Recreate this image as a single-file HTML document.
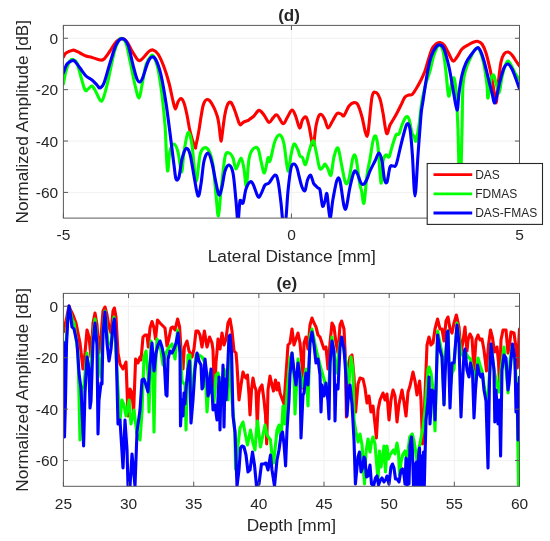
<!DOCTYPE html>
<html><head><meta charset="utf-8"><style>html,body{margin:0;padding:0;background:#fff;width:550px;height:541px;overflow:hidden}</style></head>
<body>
<svg width="550" height="541" viewBox="0 0 550 541" style="display:block;font-family:'Liberation Sans',Arial,sans-serif" fill="#262626">
<defs><clipPath id="c1"><rect x="63.4" y="25.4" width="456.10" height="192.70"/></clipPath>
<clipPath id="c2"><rect x="63.4" y="293.4" width="456.10" height="192.90"/></clipPath></defs>
<rect width="550" height="541" fill="#ffffff"/>
<line x1="63.4" y1="38.25" x2="519.5" y2="38.25" stroke="#f1f1f1" stroke-width="1"/>
<line x1="63.4" y1="89.63" x2="519.5" y2="89.63" stroke="#f1f1f1" stroke-width="1"/>
<line x1="63.4" y1="141.02" x2="519.5" y2="141.02" stroke="#f1f1f1" stroke-width="1"/>
<line x1="63.4" y1="192.41" x2="519.5" y2="192.41" stroke="#f1f1f1" stroke-width="1"/>
<line x1="291.45" y1="25.4" x2="291.45" y2="218.1" stroke="#f1f1f1" stroke-width="1"/>
<line x1="63.4" y1="306.26" x2="519.5" y2="306.26" stroke="#f1f1f1" stroke-width="1"/>
<line x1="63.4" y1="357.70" x2="519.5" y2="357.70" stroke="#f1f1f1" stroke-width="1"/>
<line x1="63.4" y1="409.14" x2="519.5" y2="409.14" stroke="#f1f1f1" stroke-width="1"/>
<line x1="63.4" y1="460.58" x2="519.5" y2="460.58" stroke="#f1f1f1" stroke-width="1"/>
<line x1="128.56" y1="293.4" x2="128.56" y2="486.3" stroke="#f1f1f1" stroke-width="1"/>
<line x1="193.71" y1="293.4" x2="193.71" y2="486.3" stroke="#f1f1f1" stroke-width="1"/>
<line x1="258.87" y1="293.4" x2="258.87" y2="486.3" stroke="#f1f1f1" stroke-width="1"/>
<line x1="324.03" y1="293.4" x2="324.03" y2="486.3" stroke="#f1f1f1" stroke-width="1"/>
<line x1="389.19" y1="293.4" x2="389.19" y2="486.3" stroke="#f1f1f1" stroke-width="1"/>
<line x1="454.34" y1="293.4" x2="454.34" y2="486.3" stroke="#f1f1f1" stroke-width="1"/>
<path d="M63.4,57.0 C63.8,56.3 64.5,54.1 66.0,53.0 C67.5,51.9 71.0,50.5 72.7,50.2 C74.4,49.9 74.8,50.5 76.0,51.0 C77.2,51.5 78.3,52.2 80.0,53.0 C81.7,53.8 84.0,55.3 86.0,56.0 C88.0,56.7 89.7,56.7 92.0,57.4 C94.3,58.1 98.0,59.7 100.0,60.0 C102.0,60.3 102.3,60.5 104.0,59.0 C105.7,57.5 108.0,53.8 110.0,51.0 C112.0,48.2 114.0,44.1 116.0,42.0 C118.0,39.9 120.2,38.6 122.0,38.6 C123.8,38.6 125.3,39.9 127.0,42.0 C128.7,44.1 130.3,48.2 132.0,51.0 C133.7,53.8 135.7,57.4 137.0,59.0 C138.3,60.6 138.8,60.9 140.0,60.6 C141.2,60.3 142.5,58.5 144.0,57.0 C145.5,55.5 147.5,52.6 149.0,51.4 C150.5,50.2 151.5,49.6 153.0,50.0 C154.5,50.4 156.2,51.2 158.0,54.0 C159.8,56.8 162.2,62.2 164.0,67.0 C165.8,71.8 167.5,77.3 169.0,83.0 C170.5,88.7 171.9,96.7 173.0,101.0 C174.1,105.3 174.6,108.8 175.4,109.0 C176.2,109.2 177.1,103.7 178.0,102.0 C178.9,100.3 180.0,98.4 181.0,98.6 C182.0,98.8 183.0,100.3 184.0,103.0 C185.0,105.7 186.0,110.3 187.0,115.0 C188.0,119.7 188.7,125.7 190.0,131.0 C191.3,136.3 194.0,144.7 195.0,147.0 C196.0,149.3 195.3,147.8 196.0,145.0 C196.7,142.2 198.2,134.7 199.0,130.0 C199.8,125.3 200.3,121.0 201.0,117.0 C201.7,113.0 202.3,108.7 203.0,106.0 C203.7,103.3 204.3,102.1 205.0,101.0 C205.7,99.9 206.2,99.6 207.0,99.5 C207.8,99.4 208.7,99.8 209.5,100.5 C210.3,101.2 211.1,102.4 212.0,104.0 C212.9,105.6 214.1,107.8 215.0,110.0 C215.9,112.2 216.8,114.5 217.5,117.0 C218.2,119.5 218.6,122.2 219.0,125.0 C219.4,127.8 219.7,131.3 220.0,134.0 C220.3,136.7 220.7,140.7 221.0,141.0 C221.3,141.3 221.6,138.8 222.0,136.0 C222.4,133.2 223.0,127.7 223.5,124.0 C224.0,120.3 224.4,117.0 225.0,114.0 C225.6,111.0 226.3,107.9 227.0,106.0 C227.7,104.1 228.3,103.1 229.0,102.5 C229.7,101.9 230.3,101.9 231.0,102.5 C231.7,103.1 232.3,104.6 233.0,106.0 C233.7,107.4 234.3,109.2 235.0,111.0 C235.7,112.8 236.3,115.0 237.0,117.0 C237.7,119.0 238.4,121.7 239.0,123.0 C239.6,124.3 239.9,125.0 240.5,125.0 C241.1,125.0 241.8,123.6 242.5,123.0 C243.2,122.4 244.1,121.9 245.0,121.5 C245.9,121.1 247.2,120.9 248.0,120.5 C248.8,120.1 249.0,119.8 250.0,119.0 C251.0,118.2 252.5,117.4 254.0,116.0 C255.5,114.6 257.3,110.6 259.0,110.4 C260.7,110.2 262.3,113.0 264.0,115.0 C265.7,117.0 267.5,121.9 269.0,122.4 C270.5,122.9 271.7,119.2 273.0,118.0 C274.3,116.8 275.3,114.1 277.0,115.0 C278.7,115.9 281.3,123.1 283.0,123.6 C284.7,124.1 285.5,120.3 287.0,118.0 C288.5,115.7 290.6,110.3 292.0,110.0 C293.4,109.7 294.3,113.0 295.6,116.0 C296.9,119.0 298.5,127.3 299.6,128.0 C300.7,128.7 301.3,121.8 302.4,120.0 C303.5,118.2 304.9,116.0 306.0,117.0 C307.1,118.0 307.8,121.3 309.0,126.0 C310.2,130.7 311.8,145.0 313.0,145.0 C314.2,145.0 315.0,130.9 316.0,126.0 C317.0,121.1 318.0,117.4 319.0,115.6 C320.0,113.8 321.0,114.3 322.0,115.0 C323.0,115.7 324.0,117.8 325.0,120.0 C326.0,122.2 326.8,127.7 328.0,128.0 C329.2,128.3 330.5,124.4 332.0,122.0 C333.5,119.6 335.5,114.9 337.0,113.6 C338.5,112.3 339.8,113.7 341.0,114.0 C342.2,114.3 342.7,116.9 344.0,115.6 C345.3,114.3 347.3,108.2 349.0,106.0 C350.7,103.8 352.5,102.8 354.0,102.6 C355.5,102.4 356.7,102.6 358.0,105.0 C359.3,107.4 360.7,112.3 362.0,117.0 C363.3,121.7 364.6,130.3 365.6,133.0 C366.6,135.7 366.9,139.0 368.0,133.0 C369.1,127.0 370.7,103.7 372.0,97.0 C373.3,90.3 374.7,92.3 376.0,92.6 C377.3,92.9 378.8,95.6 380.0,99.0 C381.2,102.4 381.9,107.3 383.0,113.0 C384.1,118.7 385.4,131.4 386.6,133.4 C387.8,135.4 388.9,127.2 390.0,125.0 C391.1,122.8 391.8,122.0 393.0,120.0 C394.2,118.0 395.7,115.5 397.0,113.0 C398.3,110.5 399.7,107.7 401.0,105.0 C402.3,102.3 403.7,98.7 405.0,97.0 C406.3,95.3 407.8,95.4 409.0,95.0 C410.2,94.6 410.8,95.6 412.0,94.6 C413.2,93.6 414.5,91.4 416.0,89.0 C417.5,86.6 419.5,83.0 421.0,80.0 C422.5,77.0 423.8,74.2 425.0,71.0 C426.2,67.8 426.8,64.7 428.0,61.0 C429.2,57.3 430.7,51.8 432.0,49.0 C433.3,46.2 434.7,45.1 436.0,44.0 C437.3,42.9 438.7,42.4 440.0,42.6 C441.3,42.8 442.7,43.4 444.0,45.0 C445.3,46.6 446.5,49.3 448.0,52.0 C449.5,54.7 451.5,60.2 453.0,61.0 C454.5,61.8 455.5,59.0 457.0,57.0 C458.5,55.0 460.2,51.0 462.0,49.0 C463.8,47.0 466.0,46.2 468.0,45.0 C470.0,43.8 472.3,42.6 474.0,42.0 C475.7,41.4 476.7,41.1 478.0,41.4 C479.3,41.7 480.7,42.1 482.0,44.0 C483.3,45.9 484.7,48.8 486.0,53.0 C487.3,57.2 488.8,63.7 490.0,69.0 C491.2,74.3 492.0,79.3 493.0,85.0 C494.0,90.7 495.2,103.0 496.0,103.0 C496.8,103.0 497.2,91.8 498.0,85.0 C498.8,78.2 500.0,67.2 501.0,62.0 C502.0,56.8 502.8,55.7 504.0,54.0 C505.2,52.3 506.7,51.8 508.0,52.0 C509.3,52.2 510.7,53.5 512.0,55.0 C513.3,56.5 514.8,59.2 516.0,61.0 C517.2,62.8 518.9,65.2 519.5,66.0" fill="none" stroke="#ff0000" stroke-width="3.1" stroke-linejoin="round" stroke-linecap="round" clip-path="url(#c1)"/>
<path d="M63.4,84.0 C63.8,81.8 64.9,74.8 66.0,71.0 C67.1,67.2 68.8,62.9 70.0,61.0 C71.2,59.1 71.8,59.1 73.0,59.4 C74.2,59.7 75.7,60.1 77.0,63.0 C78.3,65.9 79.7,72.5 81.0,77.0 C82.3,81.5 83.8,88.0 85.0,90.0 C86.2,92.0 86.8,89.7 88.0,89.0 C89.2,88.3 90.7,85.5 92.0,86.0 C93.3,86.5 94.7,89.7 96.0,92.0 C97.3,94.3 98.8,98.8 100.0,100.0 C101.2,101.2 101.7,102.2 103.0,99.0 C104.3,95.8 106.2,88.7 108.0,81.0 C109.8,73.3 112.2,59.8 114.0,53.0 C115.8,46.2 117.7,42.4 119.0,40.0 C120.3,37.6 120.8,38.1 122.0,38.6 C123.2,39.1 124.7,39.3 126.0,43.0 C127.3,46.7 128.5,54.0 130.0,61.0 C131.5,68.0 133.5,78.8 135.0,85.0 C136.5,91.2 137.8,98.0 139.0,98.0 C140.2,98.0 140.8,90.5 142.0,85.0 C143.2,79.5 144.5,69.8 146.0,65.0 C147.5,60.2 149.7,57.3 151.0,56.0 C152.3,54.7 152.8,54.8 154.0,57.0 C155.2,59.2 156.7,62.7 158.0,69.0 C159.3,75.3 160.8,85.7 162.0,95.0 C163.2,104.3 164.3,116.7 165.0,125.0 C165.7,133.3 165.6,137.3 166.0,145.0 C166.4,152.7 166.9,170.0 167.6,171.0 C168.3,172.0 168.9,155.5 170.0,151.0 C171.1,146.5 172.7,143.8 174.0,144.0 C175.3,144.2 176.7,147.3 178.0,152.0 C179.3,156.7 180.6,172.0 181.6,172.0 C182.6,172.0 182.9,158.6 184.0,152.0 C185.1,145.4 186.7,133.8 188.0,132.6 C189.3,131.4 190.7,136.9 192.0,145.0 C193.3,153.1 194.7,179.3 196.0,181.0 C197.3,182.7 198.7,160.5 200.0,155.0 C201.3,149.5 202.5,148.7 204.0,148.0 C205.5,147.3 207.5,148.2 209.0,151.0 C210.5,153.8 211.8,157.7 213.0,165.0 C214.2,172.3 215.1,186.5 216.0,195.0 C216.9,203.5 217.6,216.7 218.4,216.0 C219.2,215.3 219.9,200.8 221.0,191.0 C222.1,181.2 223.7,163.3 225.0,157.0 C226.3,150.7 227.7,152.8 229.0,153.0 C230.3,153.2 231.8,155.3 233.0,158.0 C234.2,160.7 234.7,169.0 236.0,169.0 C237.3,169.0 239.7,158.0 241.0,158.0 C242.3,158.0 243.1,164.3 244.0,169.0 C244.9,173.7 245.6,187.7 246.4,186.0 C247.2,184.3 247.9,165.2 249.0,159.0 C250.1,152.8 251.5,150.7 253.0,149.0 C254.5,147.3 256.7,146.6 258.0,148.6 C259.3,150.6 259.9,156.9 261.0,161.0 C262.1,165.1 263.2,173.5 264.4,173.0 C265.6,172.5 267.1,160.0 268.0,158.0 C268.9,156.0 268.8,163.8 270.0,161.0 C271.2,158.2 273.3,145.3 275.0,141.0 C276.7,136.7 278.5,134.5 280.0,135.0 C281.5,135.5 282.7,138.0 284.0,144.0 C285.3,150.0 286.8,169.2 288.0,171.0 C289.2,172.8 290.0,159.5 291.0,155.0 C292.0,150.5 292.8,144.8 294.0,144.0 C295.2,143.2 297.0,148.0 298.0,150.0 C299.0,152.0 299.2,154.8 300.0,156.0 C300.8,157.2 301.6,156.1 302.5,157.5 C303.4,158.9 304.4,165.4 305.5,164.5 C306.6,163.6 307.8,156.0 309.0,152.0 C310.2,148.0 311.8,140.8 313.0,140.6 C314.2,140.4 314.9,146.4 316.0,151.0 C317.1,155.6 318.4,165.3 319.6,168.0 C320.8,170.7 322.1,167.7 323.0,167.0 C323.9,166.3 324.2,163.7 325.0,164.0 C325.8,164.3 327.0,167.2 328.0,169.0 C329.0,170.8 330.0,177.0 331.0,175.0 C332.0,173.0 332.8,161.5 334.0,157.0 C335.2,152.5 336.7,146.3 338.0,148.0 C339.3,149.7 340.7,161.2 342.0,167.0 C343.3,172.8 344.4,181.0 345.6,183.0 C346.8,185.0 347.8,183.3 349.0,179.0 C350.2,174.7 351.8,160.9 353.0,157.4 C354.2,153.9 354.9,153.7 356.0,158.0 C357.1,162.3 358.7,177.5 359.6,183.0 C360.5,188.5 360.9,187.7 361.6,191.0 C362.3,194.3 363.1,205.7 364.0,203.0 C364.9,200.3 366.0,182.3 367.0,175.0 C368.0,167.7 369.0,164.7 370.0,159.0 C371.0,153.3 372.1,144.8 373.0,141.0 C373.9,137.2 374.8,135.0 375.6,136.0 C376.4,137.0 377.1,139.2 378.0,147.0 C378.9,154.8 380.2,180.7 381.0,183.0 C381.8,185.3 382.2,165.7 383.0,161.0 C383.8,156.3 385.0,155.7 386.0,155.0 C387.0,154.3 388.0,158.3 389.0,157.0 C390.0,155.7 390.8,150.7 392.0,147.0 C393.2,143.3 394.8,137.2 396.0,135.0 C397.2,132.8 398.0,135.7 399.0,134.0 C400.0,132.3 400.8,127.8 402.0,125.0 C403.2,122.2 404.8,118.0 406.0,117.0 C407.2,116.0 408.0,116.3 409.0,119.0 C410.0,121.7 411.2,130.2 412.0,133.0 C412.8,135.8 413.3,134.7 414.0,136.0 C414.7,137.3 415.2,142.8 416.0,141.0 C416.8,139.2 418.0,131.7 419.0,125.0 C420.0,118.3 420.8,108.0 422.0,101.0 C423.2,94.0 424.7,88.0 426.0,83.0 C427.3,78.0 428.7,75.7 430.0,71.0 C431.3,66.3 432.5,59.3 434.0,55.0 C435.5,50.7 437.5,45.7 439.0,45.0 C440.5,44.3 441.8,46.5 443.0,51.0 C444.2,55.5 445.1,64.5 446.0,72.0 C446.9,79.5 447.7,94.2 448.6,96.0 C449.5,97.8 450.7,86.0 451.6,83.0 C452.5,80.0 453.3,76.7 454.0,78.0 C454.7,79.3 455.3,82.3 456.0,91.0 C456.7,99.7 457.3,111.8 458.0,130.0 C458.7,148.2 459.3,200.0 460.0,200.0 C460.7,200.0 461.5,149.2 462.0,130.0 C462.5,110.8 462.3,95.2 463.0,85.0 C463.7,74.8 464.8,73.3 466.0,69.0 C467.2,64.7 468.7,62.0 470.0,59.0 C471.3,56.0 472.8,52.8 474.0,51.0 C475.2,49.2 476.0,48.0 477.0,48.0 C478.0,48.0 478.8,48.2 480.0,51.0 C481.2,53.8 482.8,59.3 484.0,65.0 C485.2,70.7 486.3,79.5 487.0,85.0 C487.7,90.5 487.3,99.0 488.0,98.0 C488.7,97.0 490.1,82.8 491.0,79.0 C491.9,75.2 492.8,74.3 493.6,75.0 C494.4,75.7 495.1,80.0 496.0,83.0 C496.9,86.0 498.0,94.0 499.0,93.0 C500.0,92.0 501.0,81.5 502.0,77.0 C503.0,72.5 504.0,68.7 505.0,66.0 C506.0,63.3 507.0,61.2 508.0,61.0 C509.0,60.8 509.8,63.0 511.0,65.0 C512.2,67.0 513.6,70.5 515.0,73.0 C516.4,75.5 518.8,78.8 519.5,80.0" fill="none" stroke="#00ff00" stroke-width="3.1" stroke-linejoin="round" stroke-linecap="round" clip-path="url(#c1)"/>
<path d="M63.4,73.0 C64.0,71.5 65.5,66.1 67.0,64.0 C68.5,61.9 71.1,60.9 72.4,60.5 C73.7,60.1 73.7,60.2 75.0,61.5 C76.3,62.8 78.2,65.6 80.0,68.0 C81.8,70.4 84.0,74.0 86.0,76.0 C88.0,78.0 90.2,78.5 92.0,80.0 C93.8,81.5 95.7,83.7 97.0,85.0 C98.3,86.3 98.8,88.3 100.0,88.0 C101.2,87.7 102.3,87.2 104.0,83.0 C105.7,78.8 108.0,69.3 110.0,63.0 C112.0,56.7 114.0,49.1 116.0,45.0 C118.0,40.9 120.0,38.6 122.0,38.6 C124.0,38.6 126.2,40.6 128.0,45.0 C129.8,49.4 131.5,59.3 133.0,65.0 C134.5,70.7 135.8,76.2 137.0,79.0 C138.2,81.8 139.0,82.3 140.0,82.0 C141.0,81.7 141.7,80.3 143.0,77.0 C144.3,73.7 146.5,65.3 148.0,62.0 C149.5,58.7 150.7,57.3 152.0,57.0 C153.3,56.7 154.5,57.0 156.0,60.0 C157.5,63.0 159.3,67.8 161.0,75.0 C162.7,82.2 164.5,93.3 166.0,103.0 C167.5,112.7 169.0,125.3 170.0,133.0 C171.0,140.7 171.3,143.7 172.0,149.0 C172.7,154.3 173.3,160.0 174.0,165.0 C174.7,170.0 175.2,177.0 176.0,179.0 C176.8,181.0 178.0,180.3 179.0,177.0 C180.0,173.7 180.8,163.7 182.0,159.0 C183.2,154.3 184.7,149.4 186.0,148.6 C187.3,147.8 188.7,149.4 190.0,154.0 C191.3,158.6 192.7,169.0 194.0,176.0 C195.3,183.0 196.8,194.7 198.0,196.0 C199.2,197.3 200.0,189.8 201.0,184.0 C202.0,178.2 202.8,166.2 204.0,161.0 C205.2,155.8 206.7,152.7 208.0,153.0 C209.3,153.3 210.7,158.0 212.0,163.0 C213.3,168.0 214.8,177.7 216.0,183.0 C217.2,188.3 218.0,194.3 219.0,195.0 C220.0,195.7 221.0,191.0 222.0,187.0 C223.0,183.0 223.8,174.7 225.0,171.0 C226.2,167.3 227.7,164.7 229.0,165.0 C230.3,165.3 231.8,167.0 233.0,173.0 C234.2,179.0 235.2,193.0 236.0,201.0 C236.8,209.0 237.3,221.0 238.0,221.0 C238.7,221.0 239.2,204.0 240.0,201.0 C240.8,198.0 242.0,205.0 243.0,203.0 C244.0,201.0 244.8,192.5 246.0,189.0 C247.2,185.5 248.8,182.8 250.0,182.0 C251.2,181.2 251.7,181.6 253.0,184.0 C254.3,186.4 256.7,194.9 258.0,196.6 C259.3,198.3 259.8,195.9 261.0,194.0 C262.2,192.1 263.7,186.8 265.0,185.0 C266.3,183.2 267.3,184.7 269.0,183.0 C270.7,181.3 273.5,175.3 275.0,175.0 C276.5,174.7 277.0,176.3 278.0,181.0 C279.0,185.7 280.2,196.2 281.0,203.0 C281.8,209.8 282.2,218.8 283.0,222.0 C283.8,225.2 284.8,227.2 285.6,222.0 C286.4,216.8 287.1,200.0 288.0,191.0 C288.9,182.0 290.0,172.5 291.0,168.0 C292.0,163.5 293.0,164.0 294.0,164.0 C295.0,164.0 296.2,166.0 297.0,168.0 C297.8,170.0 298.2,172.8 299.0,176.0 C299.8,179.2 301.0,184.6 302.0,187.0 C303.0,189.4 304.1,191.7 305.0,190.5 C305.9,189.3 306.6,182.6 307.5,180.0 C308.4,177.4 309.7,175.0 310.5,175.0 C311.3,175.0 311.9,178.5 312.5,180.0 C313.1,181.5 313.1,182.7 314.0,184.0 C314.9,185.3 317.0,187.0 318.0,188.0 C319.0,189.0 319.2,187.0 320.0,190.0 C320.8,193.0 321.7,204.2 322.5,206.0 C323.3,207.8 324.2,203.0 325.0,201.0 C325.8,199.0 326.2,191.2 327.0,194.0 C327.8,196.8 329.0,217.2 330.0,218.0 C331.0,218.8 331.8,205.3 333.0,199.0 C334.2,192.7 335.8,183.0 337.0,180.0 C338.2,177.0 338.8,176.7 340.0,181.0 C341.2,185.3 342.9,201.7 344.0,206.0 C345.1,210.3 345.4,210.2 346.4,207.0 C347.4,203.8 348.7,192.8 350.0,187.0 C351.3,181.2 352.8,174.3 354.0,172.0 C355.2,169.7 355.8,171.2 357.0,173.0 C358.2,174.8 359.8,181.2 361.0,183.0 C362.2,184.8 363.0,184.7 364.0,184.0 C365.0,183.3 366.0,181.2 367.0,179.0 C368.0,176.8 368.7,174.0 370.0,171.0 C371.3,168.0 373.5,164.0 375.0,161.0 C376.5,158.0 377.8,153.0 379.0,153.0 C380.2,153.0 381.1,156.7 382.0,161.0 C382.9,165.3 383.6,175.5 384.4,179.0 C385.2,182.5 386.1,184.0 387.0,182.0 C387.9,180.0 389.0,169.7 390.0,167.0 C391.0,164.3 392.0,166.3 393.0,166.0 C394.0,165.7 394.8,167.8 396.0,165.0 C397.2,162.2 398.7,154.3 400.0,149.0 C401.3,143.7 402.8,137.2 404.0,133.0 C405.2,128.8 406.0,124.7 407.0,124.0 C408.0,123.3 409.1,123.8 410.0,129.0 C410.9,134.2 411.6,143.8 412.4,155.0 C413.2,166.2 414.1,196.0 415.0,196.0 C415.9,196.0 417.0,168.5 418.0,155.0 C419.0,141.5 420.2,124.0 421.0,115.0 C421.8,106.0 422.0,107.7 423.0,101.0 C424.0,94.3 425.7,82.3 427.0,75.0 C428.3,67.7 429.5,61.7 431.0,57.0 C432.5,52.3 434.5,49.0 436.0,47.0 C437.5,45.0 438.7,44.7 440.0,45.0 C441.3,45.3 442.5,45.3 444.0,49.0 C445.5,52.7 447.5,60.3 449.0,67.0 C450.5,73.7 451.7,81.8 453.0,89.0 C454.3,96.2 456.0,109.3 457.0,110.0 C458.0,110.7 458.2,98.8 459.0,93.0 C459.8,87.2 460.8,80.0 462.0,75.0 C463.2,70.0 464.5,66.3 466.0,63.0 C467.5,59.7 469.2,57.5 471.0,55.0 C472.8,52.5 475.5,48.8 477.0,48.0 C478.5,47.2 478.8,47.8 480.0,50.0 C481.2,52.2 482.7,56.5 484.0,61.0 C485.3,65.5 486.7,71.7 488.0,77.0 C489.3,82.3 490.9,88.7 492.0,93.0 C493.1,97.3 493.6,102.7 494.4,103.0 C495.2,103.3 496.1,98.7 497.0,95.0 C497.9,91.3 498.8,85.5 500.0,81.0 C501.2,76.5 502.7,70.8 504.0,68.0 C505.3,65.2 506.7,63.8 508.0,64.0 C509.3,64.2 510.7,66.5 512.0,69.0 C513.3,71.5 514.8,75.7 516.0,79.0 C517.2,82.3 518.9,87.3 519.5,89.0" fill="none" stroke="#0000ff" stroke-width="3.1" stroke-linejoin="round" stroke-linecap="round" clip-path="url(#c1)"/>
<polyline points="63.4,332.0 64.3,327.0 65.5,323.0 66.8,317.0 69.0,306.0 71.0,311.0 73.0,315.0 76.0,323.0 78.0,333.0 80.0,343.0 81.6,357.0 83.0,369.0 85.0,353.0 87.0,330.0 89.0,337.0 91.0,357.0 93.0,323.0 95.0,313.0 97.0,325.0 99.0,353.0 101.0,337.0 103.0,311.0 105.0,307.0 107.0,315.0 109.0,327.0 111.0,333.0 113.0,311.0 114.4,308.0 116.0,317.0 118.0,353.0 120.0,364.0 123.0,369.0 126.0,362.0 128.0,416.0 130.0,389.0 132.0,393.0 133.6,412.0 135.6,359.0 138.0,363.0 140.0,357.0 141.0,360.0 143.0,337.0 145.0,335.0 147.0,335.0 148.3,347.0 150.0,328.0 152.0,321.5 154.0,328.0 155.5,339.0 157.5,320.0 160.0,323.0 163.0,326.0 165.0,328.0 167.0,346.0 169.0,338.0 171.0,328.0 173.0,327.0 175.0,330.0 177.6,319.0 179.6,327.0 181.6,359.0 183.0,369.0 184.4,347.0 187.0,341.0 189.0,351.0 192.0,357.0 194.0,349.0 196.0,331.0 198.0,331.0 200.0,335.0 202.0,347.0 204.4,331.0 207.0,347.0 209.6,337.0 212.0,343.0 213.0,350.0 214.5,395.0 216.0,362.0 217.0,352.0 218.0,339.0 220.0,349.0 222.0,333.0 224.0,345.0 226.0,339.0 228.0,323.0 230.0,319.0 232.0,331.0 234.0,351.0 236.0,353.0 237.0,365.0 239.0,400.0 241.0,385.0 243.0,372.0 244.5,376.0 246.0,378.0 247.5,375.0 249.0,395.0 250.0,415.0 251.5,390.0 253.0,378.0 254.5,386.0 256.0,390.0 257.3,425.0 258.5,395.0 260.0,388.0 262.0,385.0 264.0,400.0 265.5,415.0 266.7,444.0 268.0,390.0 270.0,376.0 272.0,385.0 273.5,391.0 275.5,380.0 277.0,390.0 278.5,383.0 280.0,393.0 284.0,404.0 288.0,345.0 290.0,343.0 292.0,329.0 294.0,345.0 296.0,339.0 298.0,333.0 300.0,343.0 302.0,365.0 302.8,388.0 303.3,370.0 304.0,343.0 306.0,337.0 308.0,349.0 310.0,325.0 312.0,318.0 314.0,323.0 316.0,327.0 318.0,335.0 320.0,337.0 322.0,343.0 324.0,349.0 326.0,347.0 328.0,369.0 330.0,343.0 332.0,323.0 334.0,327.0 336.0,343.0 338.0,353.0 340.0,325.0 341.6,321.0 344.0,329.0 345.5,360.0 346.4,417.0 348.0,369.0 350.0,357.0 352.0,355.0 354.0,377.0 355.6,412.0 358.0,384.0 360.0,378.0 363.0,379.0 365.0,388.0 367.0,403.0 369.0,396.0 371.0,412.0 373.0,406.0 375.0,424.0 376.4,438.0 378.0,410.0 380.0,400.0 383.0,393.0 385.0,400.0 387.0,394.0 389.0,420.0 391.0,400.0 393.0,390.0 395.0,396.0 397.0,422.0 399.0,404.0 402.0,390.0 404.0,402.0 406.0,416.0 408.0,392.0 410.0,386.0 413.0,372.0 415.0,381.0 417.0,395.0 419.6,381.0 421.0,400.0 422.5,444.0 424.0,420.0 425.6,380.0 427.0,345.0 429.0,337.0 431.0,345.0 433.0,343.0 435.0,329.0 437.6,319.0 440.0,329.0 442.0,329.0 444.0,341.0 446.0,321.0 448.0,317.0 450.0,329.0 452.0,333.0 454.0,323.0 456.4,315.0 459.0,327.0 461.0,353.0 463.0,341.0 465.0,327.0 466.0,340.0 467.0,351.0 468.0,340.0 470.0,334.0 472.0,338.0 474.0,370.0 476.0,340.0 478.0,335.0 480.0,340.0 482.0,339.0 484.0,350.0 486.5,371.0 488.5,345.0 490.5,330.0 492.5,338.0 494.5,352.0 496.0,349.0 497.0,347.0 498.5,362.0 499.5,383.0 501.0,340.0 503.0,330.0 506.0,330.0 508.0,353.0 509.5,345.0 511.0,332.0 514.0,333.0 516.0,348.0 517.3,368.0 519.5,329.0" fill="none" stroke="#ff0000" stroke-width="3.1" stroke-linejoin="round" stroke-linecap="round" clip-path="url(#c2)"/>
<polyline points="63.4,380.0 64.5,366.0 66.0,345.0 67.5,320.0 69.0,307.0 72.0,319.0 74.0,323.0 78.0,353.0 80.0,440.0 82.0,389.0 84.0,385.0 87.0,353.0 90.0,383.0 93.0,337.0 95.0,319.0 98.0,353.0 101.0,377.0 103.0,329.0 105.0,311.0 108.0,343.0 111.0,345.0 114.0,317.0 118.0,389.0 120.0,420.0 122.0,400.0 124.0,405.0 126.0,416.0 129.0,400.0 131.0,424.0 134.0,410.0 137.0,434.0 140.0,440.0 142.0,412.0 144.0,357.0 146.0,351.0 148.0,373.0 149.0,412.0 151.0,341.0 153.0,375.0 154.0,432.0 155.0,377.0 157.0,339.0 160.0,345.0 163.0,365.0 166.0,353.0 169.0,347.0 172.0,344.0 175.0,359.0 177.6,330.0 180.0,349.0 182.0,381.0 185.0,385.0 186.0,430.0 188.0,355.0 190.0,355.0 192.0,404.0 193.0,387.0 196.0,355.0 199.0,355.0 202.0,357.0 205.0,363.0 207.0,412.0 210.0,373.0 213.0,400.0 214.0,402.0 216.0,375.0 218.0,373.0 221.0,389.0 224.0,369.0 227.0,377.0 228.0,400.0 229.0,339.0 232.0,400.0 235.0,434.0 235.5,469.0 238.0,445.0 240.0,428.0 243.0,422.0 245.5,435.0 247.5,445.0 250.5,430.0 253.0,443.0 255.0,450.0 256.5,430.0 257.5,421.0 259.0,435.0 260.5,447.0 262.5,437.0 265.0,425.0 267.0,435.0 269.0,438.0 270.5,440.0 272.0,455.0 273.5,463.0 275.0,450.0 277.0,430.0 279.0,425.0 281.0,440.0 283.0,406.0 285.0,424.0 287.0,392.0 290.0,359.0 292.0,353.0 294.0,377.0 295.0,414.0 298.0,359.0 302.0,387.0 306.0,369.0 308.0,406.0 310.0,337.0 312.0,329.0 316.0,349.0 320.0,365.0 324.0,379.0 328.0,397.0 332.0,337.0 336.0,373.0 340.0,343.0 342.0,339.0 346.0,363.0 349.0,383.0 351.0,357.0 353.0,369.0 354.0,420.0 356.0,432.0 358.0,442.0 360.0,434.0 362.0,445.0 363.5,470.0 364.5,484.0 366.0,452.0 368.0,439.0 370.0,452.0 371.5,442.0 373.0,437.0 375.0,444.0 376.5,462.0 378.0,480.0 379.5,451.0 381.0,467.0 382.5,458.0 384.0,446.0 385.5,472.0 387.0,446.0 388.5,459.0 390.0,455.0 392.0,452.0 393.5,450.0 395.0,454.0 397.0,443.0 398.5,452.0 399.5,475.0 401.0,462.0 403.0,454.0 405.0,451.0 407.0,459.0 409.7,437.0 412.2,434.0 414.0,441.0 416.9,460.0 419.5,445.5 422.0,433.0 423.0,428.0 425.0,410.0 428.0,369.0 429.0,367.0 431.0,373.0 433.0,389.0 435.0,431.0 437.6,331.0 442.0,353.0 444.0,404.0 445.0,359.0 448.0,331.0 450.0,390.0 452.0,373.0 454.0,369.0 457.0,323.0 461.0,353.0 464.0,357.0 466.0,353.0 468.0,357.0 470.5,359.0 473.0,372.0 475.0,380.0 478.0,358.0 480.0,365.0 482.0,371.0 484.0,385.0 486.0,397.0 488.0,400.0 491.0,345.0 494.0,370.0 497.0,384.0 499.0,392.0 501.0,370.0 504.0,347.0 507.0,380.0 508.0,393.0 510.0,360.0 512.5,345.0 515.0,365.0 517.0,389.0 518.5,486.0 519.5,486.0" fill="none" stroke="#00ff00" stroke-width="3.1" stroke-linejoin="round" stroke-linecap="round" clip-path="url(#c2)"/>
<polyline points="63.4,342.0 64.5,437.0 65.5,400.0 66.5,345.0 68.0,315.0 69.0,306.0 70.0,311.0 72.0,327.0 74.0,329.0 77.0,343.0 79.0,373.0 81.0,389.0 83.6,446.0 85.0,393.0 87.0,357.0 89.0,369.0 90.0,408.0 91.0,401.0 93.0,343.0 95.0,323.0 97.0,345.0 98.0,434.0 99.0,400.0 101.0,383.0 102.0,384.0 103.0,333.0 105.0,312.0 107.0,343.0 109.0,361.0 111.0,349.0 113.0,325.0 114.4,319.0 116.0,343.0 118.0,424.0 120.0,420.0 123.0,468.0 125.0,420.0 127.0,450.0 128.0,486.0 130.0,486.0 132.0,454.0 135.0,486.0 137.0,432.0 140.0,410.0 142.0,380.0 144.0,379.0 146.0,385.0 148.0,392.0 150.0,365.0 152.0,343.0 154.0,371.0 156.0,353.0 158.0,345.0 160.0,341.0 162.0,347.0 164.0,357.0 166.0,395.0 167.0,396.0 168.0,359.0 170.0,351.0 172.0,353.0 174.0,349.0 176.0,343.0 178.0,333.0 180.0,353.0 180.5,426.0 182.0,400.0 183.0,416.0 184.0,393.0 185.0,404.0 186.0,389.0 188.0,369.0 189.6,361.0 191.0,423.0 193.0,400.0 195.0,369.0 197.0,353.0 199.0,361.0 201.0,365.0 202.0,389.0 203.0,387.0 205.0,359.0 207.0,377.0 208.0,396.0 209.0,393.0 211.0,369.0 213.0,410.0 215.0,405.0 217.0,420.0 219.0,377.0 220.0,430.0 221.0,383.0 222.0,404.0 223.0,365.0 224.0,427.0 225.0,379.0 226.0,400.0 227.0,383.0 229.0,337.0 230.0,335.0 231.6,353.0 233.0,416.0 235.0,432.0 237.0,486.0 239.0,470.0 240.5,448.0 242.0,446.0 244.0,447.0 246.0,455.0 248.0,472.0 250.0,470.0 252.5,452.0 254.5,465.0 256.5,486.0 259.0,484.0 261.5,464.0 264.0,464.0 266.0,463.0 268.0,470.0 270.5,455.0 272.0,470.0 274.5,486.0 277.0,460.0 279.0,450.0 281.0,435.0 282.5,432.0 284.0,444.0 285.6,466.0 287.0,430.0 289.0,400.0 290.0,375.0 292.0,353.0 294.0,371.0 296.0,385.0 298.0,363.0 300.0,378.0 301.0,438.0 303.0,395.0 304.0,393.0 306.0,373.0 308.0,385.0 310.0,343.0 312.0,332.0 314.0,345.0 316.0,363.0 318.0,359.0 320.0,375.0 321.0,412.0 322.0,385.0 324.0,396.0 326.0,383.0 328.0,401.0 329.0,419.0 330.0,363.0 332.0,341.0 334.0,351.0 335.0,421.0 336.0,385.0 338.0,389.0 340.0,347.0 341.6,337.0 344.0,349.0 346.0,377.0 347.0,416.0 348.0,401.0 349.0,390.0 350.0,385.0 352.0,404.0 354.0,440.0 355.4,484.0 358.0,457.0 359.5,452.0 361.0,472.0 362.5,468.0 364.0,457.0 365.0,459.0 366.5,477.0 368.0,476.0 370.0,465.0 371.5,484.0 373.5,486.0 375.5,478.0 377.0,476.0 378.5,485.0 380.5,480.0 382.0,478.0 384.0,482.0 386.0,479.0 387.0,476.0 389.0,484.0 391.0,467.0 392.5,464.0 394.0,468.0 395.5,479.0 397.0,479.0 399.0,482.0 401.0,470.0 402.5,469.0 404.0,475.0 405.0,484.0 406.0,458.0 407.0,486.0 408.0,460.0 409.0,484.0 410.0,445.0 411.5,437.0 412.5,452.0 413.5,486.0 414.5,464.0 415.5,486.0 416.5,462.0 417.5,486.0 418.5,456.0 419.5,448.0 420.5,486.0 421.5,456.0 422.5,486.0 423.5,452.0 424.3,486.0 425.2,450.0 426.0,420.0 428.0,400.0 429.0,377.0 430.0,424.0 432.0,390.0 434.0,392.0 435.0,420.0 436.0,390.0 437.6,335.0 440.0,350.0 442.0,357.0 444.0,405.0 445.0,377.0 447.0,333.0 448.0,331.0 450.0,408.0 452.0,363.0 454.0,363.0 457.0,325.0 459.0,343.0 461.0,417.0 462.0,393.0 464.0,353.0 465.0,349.0 467.0,370.0 469.0,377.0 470.5,363.0 472.5,372.0 474.0,418.0 475.5,390.0 477.5,365.0 479.5,374.0 481.0,377.0 482.5,374.0 484.0,390.0 486.0,401.0 488.0,468.0 489.5,380.0 491.0,344.0 494.0,370.0 494.8,422.0 496.0,390.0 498.0,424.0 499.5,400.0 500.6,456.0 502.0,370.0 504.0,355.0 506.0,358.0 508.0,390.0 509.0,384.0 511.0,360.0 512.5,344.0 515.0,360.0 516.0,412.0 517.0,384.0 518.0,440.0 519.5,377.0" fill="none" stroke="#0000ff" stroke-width="3.1" stroke-linejoin="round" stroke-linecap="round" clip-path="url(#c2)"/>
<rect x="63.4" y="25.4" width="456.10" height="192.70" fill="none" stroke="#5a5a5a" stroke-width="1"/>
<line x1="63.4" y1="38.25" x2="68.0" y2="38.25" stroke="#5a5a5a" stroke-width="1"/>
<line x1="514.9" y1="38.25" x2="519.5" y2="38.25" stroke="#5a5a5a" stroke-width="1"/>
<text x="58.2" y="43.85" text-anchor="end" font-size="15.5">0</text>
<line x1="63.4" y1="89.63" x2="68.0" y2="89.63" stroke="#5a5a5a" stroke-width="1"/>
<line x1="514.9" y1="89.63" x2="519.5" y2="89.63" stroke="#5a5a5a" stroke-width="1"/>
<text x="58.2" y="95.23" text-anchor="end" font-size="15.5">-20</text>
<line x1="63.4" y1="141.02" x2="68.0" y2="141.02" stroke="#5a5a5a" stroke-width="1"/>
<line x1="514.9" y1="141.02" x2="519.5" y2="141.02" stroke="#5a5a5a" stroke-width="1"/>
<text x="58.2" y="146.62" text-anchor="end" font-size="15.5">-40</text>
<line x1="63.4" y1="192.41" x2="68.0" y2="192.41" stroke="#5a5a5a" stroke-width="1"/>
<line x1="514.9" y1="192.41" x2="519.5" y2="192.41" stroke="#5a5a5a" stroke-width="1"/>
<text x="58.2" y="198.01" text-anchor="end" font-size="15.5">-60</text>
<line x1="63.40" y1="218.1" x2="63.40" y2="213.5" stroke="#5a5a5a" stroke-width="1"/>
<line x1="63.40" y1="25.4" x2="63.40" y2="30.0" stroke="#5a5a5a" stroke-width="1"/>
<text x="63.40" y="240.30" text-anchor="middle" font-size="15.5">-5</text>
<line x1="291.45" y1="218.1" x2="291.45" y2="213.5" stroke="#5a5a5a" stroke-width="1"/>
<line x1="291.45" y1="25.4" x2="291.45" y2="30.0" stroke="#5a5a5a" stroke-width="1"/>
<text x="291.45" y="240.30" text-anchor="middle" font-size="15.5">0</text>
<line x1="519.50" y1="218.1" x2="519.50" y2="213.5" stroke="#5a5a5a" stroke-width="1"/>
<line x1="519.50" y1="25.4" x2="519.50" y2="30.0" stroke="#5a5a5a" stroke-width="1"/>
<text x="519.50" y="240.30" text-anchor="middle" font-size="15.5">5</text>
<text x="289" y="20.90" text-anchor="middle" font-size="17" font-weight="bold">(d)</text>
<text x="291.8" y="262.30" text-anchor="middle" font-size="17.3">Lateral Distance [mm]</text>
<text transform="translate(27.6 121.75) rotate(-90)" x="0" y="0" text-anchor="middle" font-size="17.3">Normalized Amplitude [dB]</text>
<rect x="63.4" y="293.4" width="456.10" height="192.90" fill="none" stroke="#5a5a5a" stroke-width="1"/>
<line x1="63.4" y1="306.26" x2="68.0" y2="306.26" stroke="#5a5a5a" stroke-width="1"/>
<line x1="514.9" y1="306.26" x2="519.5" y2="306.26" stroke="#5a5a5a" stroke-width="1"/>
<text x="58.2" y="311.86" text-anchor="end" font-size="15.5">0</text>
<line x1="63.4" y1="357.70" x2="68.0" y2="357.70" stroke="#5a5a5a" stroke-width="1"/>
<line x1="514.9" y1="357.70" x2="519.5" y2="357.70" stroke="#5a5a5a" stroke-width="1"/>
<text x="58.2" y="363.30" text-anchor="end" font-size="15.5">-20</text>
<line x1="63.4" y1="409.14" x2="68.0" y2="409.14" stroke="#5a5a5a" stroke-width="1"/>
<line x1="514.9" y1="409.14" x2="519.5" y2="409.14" stroke="#5a5a5a" stroke-width="1"/>
<text x="58.2" y="414.74" text-anchor="end" font-size="15.5">-40</text>
<line x1="63.4" y1="460.58" x2="68.0" y2="460.58" stroke="#5a5a5a" stroke-width="1"/>
<line x1="514.9" y1="460.58" x2="519.5" y2="460.58" stroke="#5a5a5a" stroke-width="1"/>
<text x="58.2" y="466.18" text-anchor="end" font-size="15.5">-60</text>
<line x1="63.40" y1="486.3" x2="63.40" y2="481.7" stroke="#5a5a5a" stroke-width="1"/>
<line x1="63.40" y1="293.4" x2="63.40" y2="298.0" stroke="#5a5a5a" stroke-width="1"/>
<text x="63.40" y="508.50" text-anchor="middle" font-size="15.5">25</text>
<line x1="128.56" y1="486.3" x2="128.56" y2="481.7" stroke="#5a5a5a" stroke-width="1"/>
<line x1="128.56" y1="293.4" x2="128.56" y2="298.0" stroke="#5a5a5a" stroke-width="1"/>
<text x="128.56" y="508.50" text-anchor="middle" font-size="15.5">30</text>
<line x1="193.71" y1="486.3" x2="193.71" y2="481.7" stroke="#5a5a5a" stroke-width="1"/>
<line x1="193.71" y1="293.4" x2="193.71" y2="298.0" stroke="#5a5a5a" stroke-width="1"/>
<text x="193.71" y="508.50" text-anchor="middle" font-size="15.5">35</text>
<line x1="258.87" y1="486.3" x2="258.87" y2="481.7" stroke="#5a5a5a" stroke-width="1"/>
<line x1="258.87" y1="293.4" x2="258.87" y2="298.0" stroke="#5a5a5a" stroke-width="1"/>
<text x="258.87" y="508.50" text-anchor="middle" font-size="15.5">40</text>
<line x1="324.03" y1="486.3" x2="324.03" y2="481.7" stroke="#5a5a5a" stroke-width="1"/>
<line x1="324.03" y1="293.4" x2="324.03" y2="298.0" stroke="#5a5a5a" stroke-width="1"/>
<text x="324.03" y="508.50" text-anchor="middle" font-size="15.5">45</text>
<line x1="389.19" y1="486.3" x2="389.19" y2="481.7" stroke="#5a5a5a" stroke-width="1"/>
<line x1="389.19" y1="293.4" x2="389.19" y2="298.0" stroke="#5a5a5a" stroke-width="1"/>
<text x="389.19" y="508.50" text-anchor="middle" font-size="15.5">50</text>
<line x1="454.34" y1="486.3" x2="454.34" y2="481.7" stroke="#5a5a5a" stroke-width="1"/>
<line x1="454.34" y1="293.4" x2="454.34" y2="298.0" stroke="#5a5a5a" stroke-width="1"/>
<text x="454.34" y="508.50" text-anchor="middle" font-size="15.5">55</text>
<line x1="519.50" y1="486.3" x2="519.50" y2="481.7" stroke="#5a5a5a" stroke-width="1"/>
<line x1="519.50" y1="293.4" x2="519.50" y2="298.0" stroke="#5a5a5a" stroke-width="1"/>
<text x="519.50" y="508.50" text-anchor="middle" font-size="15.5">60</text>
<text x="286.8" y="288.90" text-anchor="middle" font-size="17" font-weight="bold">(e)</text>
<text x="291.3" y="530.50" text-anchor="middle" font-size="17.3">Depth [mm]</text>
<text transform="translate(27.6 389.85) rotate(-90)" x="0" y="0" text-anchor="middle" font-size="17.3">Normalized Amplitude [dB]</text>
<rect x="427.2" y="163.5" width="115.3" height="60.9" fill="#ffffff" stroke="#262626" stroke-width="1.1"/>
<line x1="433.5" y1="174.6" x2="472.2" y2="174.6" stroke="#ff0000" stroke-width="2.8"/>
<text x="475.2" y="178.9" font-size="12">DAS</text>
<line x1="433.5" y1="193.8" x2="472.2" y2="193.8" stroke="#00ff00" stroke-width="2.8"/>
<text x="475.2" y="198.1" font-size="12">FDMAS</text>
<line x1="433.5" y1="213.0" x2="472.2" y2="213.0" stroke="#0000ff" stroke-width="2.8"/>
<text x="475.2" y="217.3" font-size="12">DAS-FMAS</text>
</svg>
</body></html>
